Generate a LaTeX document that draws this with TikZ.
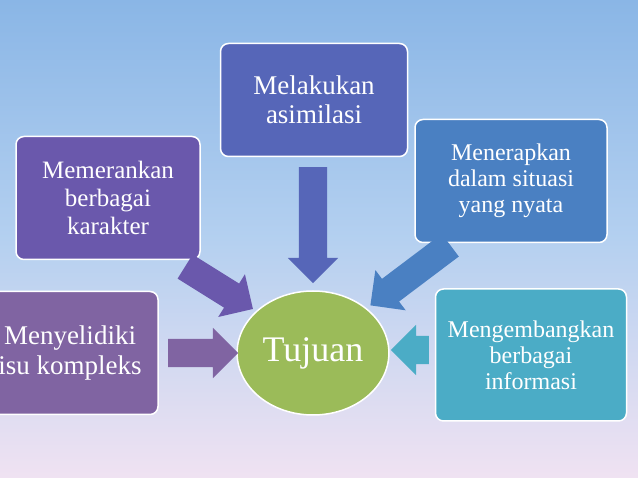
\documentclass[tikz,border=0pt]{standalone}
\usepackage{fontspec}
\setmainfont{Liberation Serif}
\usetikzlibrary{shapes.arrows,shapes.geometric}
\definecolor{bgtop}{HTML}{8AB6E6}
\definecolor{bgmid}{HTML}{B4D0F0}
\definecolor{bgbot}{HTML}{F0E2F2}
\definecolor{cA}{HTML}{8064A2}
\definecolor{cB}{HTML}{6A58AC}
\definecolor{cC}{HTML}{5666B8}
\definecolor{cD}{HTML}{4A80C2}
\definecolor{cE}{HTML}{4BACC6}
\definecolor{cG}{HTML}{9BBB59}
\begin{document}
\begin{tikzpicture}[x=1pt,y=-1pt,
 box/.style={draw=white,line width=1.5pt,rounded corners=8pt,text=white,align=center,font=\fontsize{27}{29}\selectfont,inner sep=0pt},
 arr/.style={single arrow,draw=none,inner xsep=0pt,inner ysep=14pt,single arrow head extend=11pt,single arrow head indent=0pt}]
\shade[top color=bgtop,bottom color=bgbot,middle color=bgmid] (0,0) rectangle (638,478);
\useasboundingbox (0,0) rectangle (638,478);
\begin{scope}
\clip (0,0) rectangle (638,478);
\node[box,fill=cA,minimum width=180pt,minimum height=123pt] (a) at (68,353) {};
\node[text=white,align=center,font=\fontsize{27}{30}\selectfont] (at) at (70,353) {Menyelidiki\\isu kompleks};
\end{scope}
\node[box,fill=cB,minimum width=184pt,minimum height=123pt,font=\fontsize{25}{28}\selectfont] (b) at (108,198) {Memerankan\\berbagai\\karakter};
\node[box,fill=cC,minimum width=187pt,minimum height=113pt] (c) at (314,100) {Melakukan\\asimilasi};
\node[box,fill=cD,minimum width=192pt,minimum height=123pt,font=\fontsize{24}{26}\selectfont] (d) at (511,181) {Menerapkan\\dalam situasi\\yang nyata};
\node[box,fill=cE,minimum width=191pt,minimum height=132pt,font=\fontsize{24}{26}\selectfont] (e) at (531,355) {Mengembangkan\\berbagai\\informasi};
\node[ellipse,draw=white,line width=1.5pt,fill=cG,minimum width=150pt,minimum height=124pt,text=white,font=\fontsize{36}{40}\selectfont] (t) at (313,353) {Tujuan};
\node[arr,fill=cA,minimum height=70pt] (ra) at (196,353) {};
\node[arr,fill=cB,minimum height=80pt,rotate=-32] (rb) at (213,284) {};
\node[arr,fill=cC,minimum height=116pt,rotate=-90] (rc) at (313,218) {};
\node[arr,fill=cD,minimum height=100pt,rotate=-143] (rd) at (416,271) {};
\node[arr,fill=cE,minimum height=38pt,rotate=180] (re) at (417,350) {};
\end{tikzpicture}
\end{document}
